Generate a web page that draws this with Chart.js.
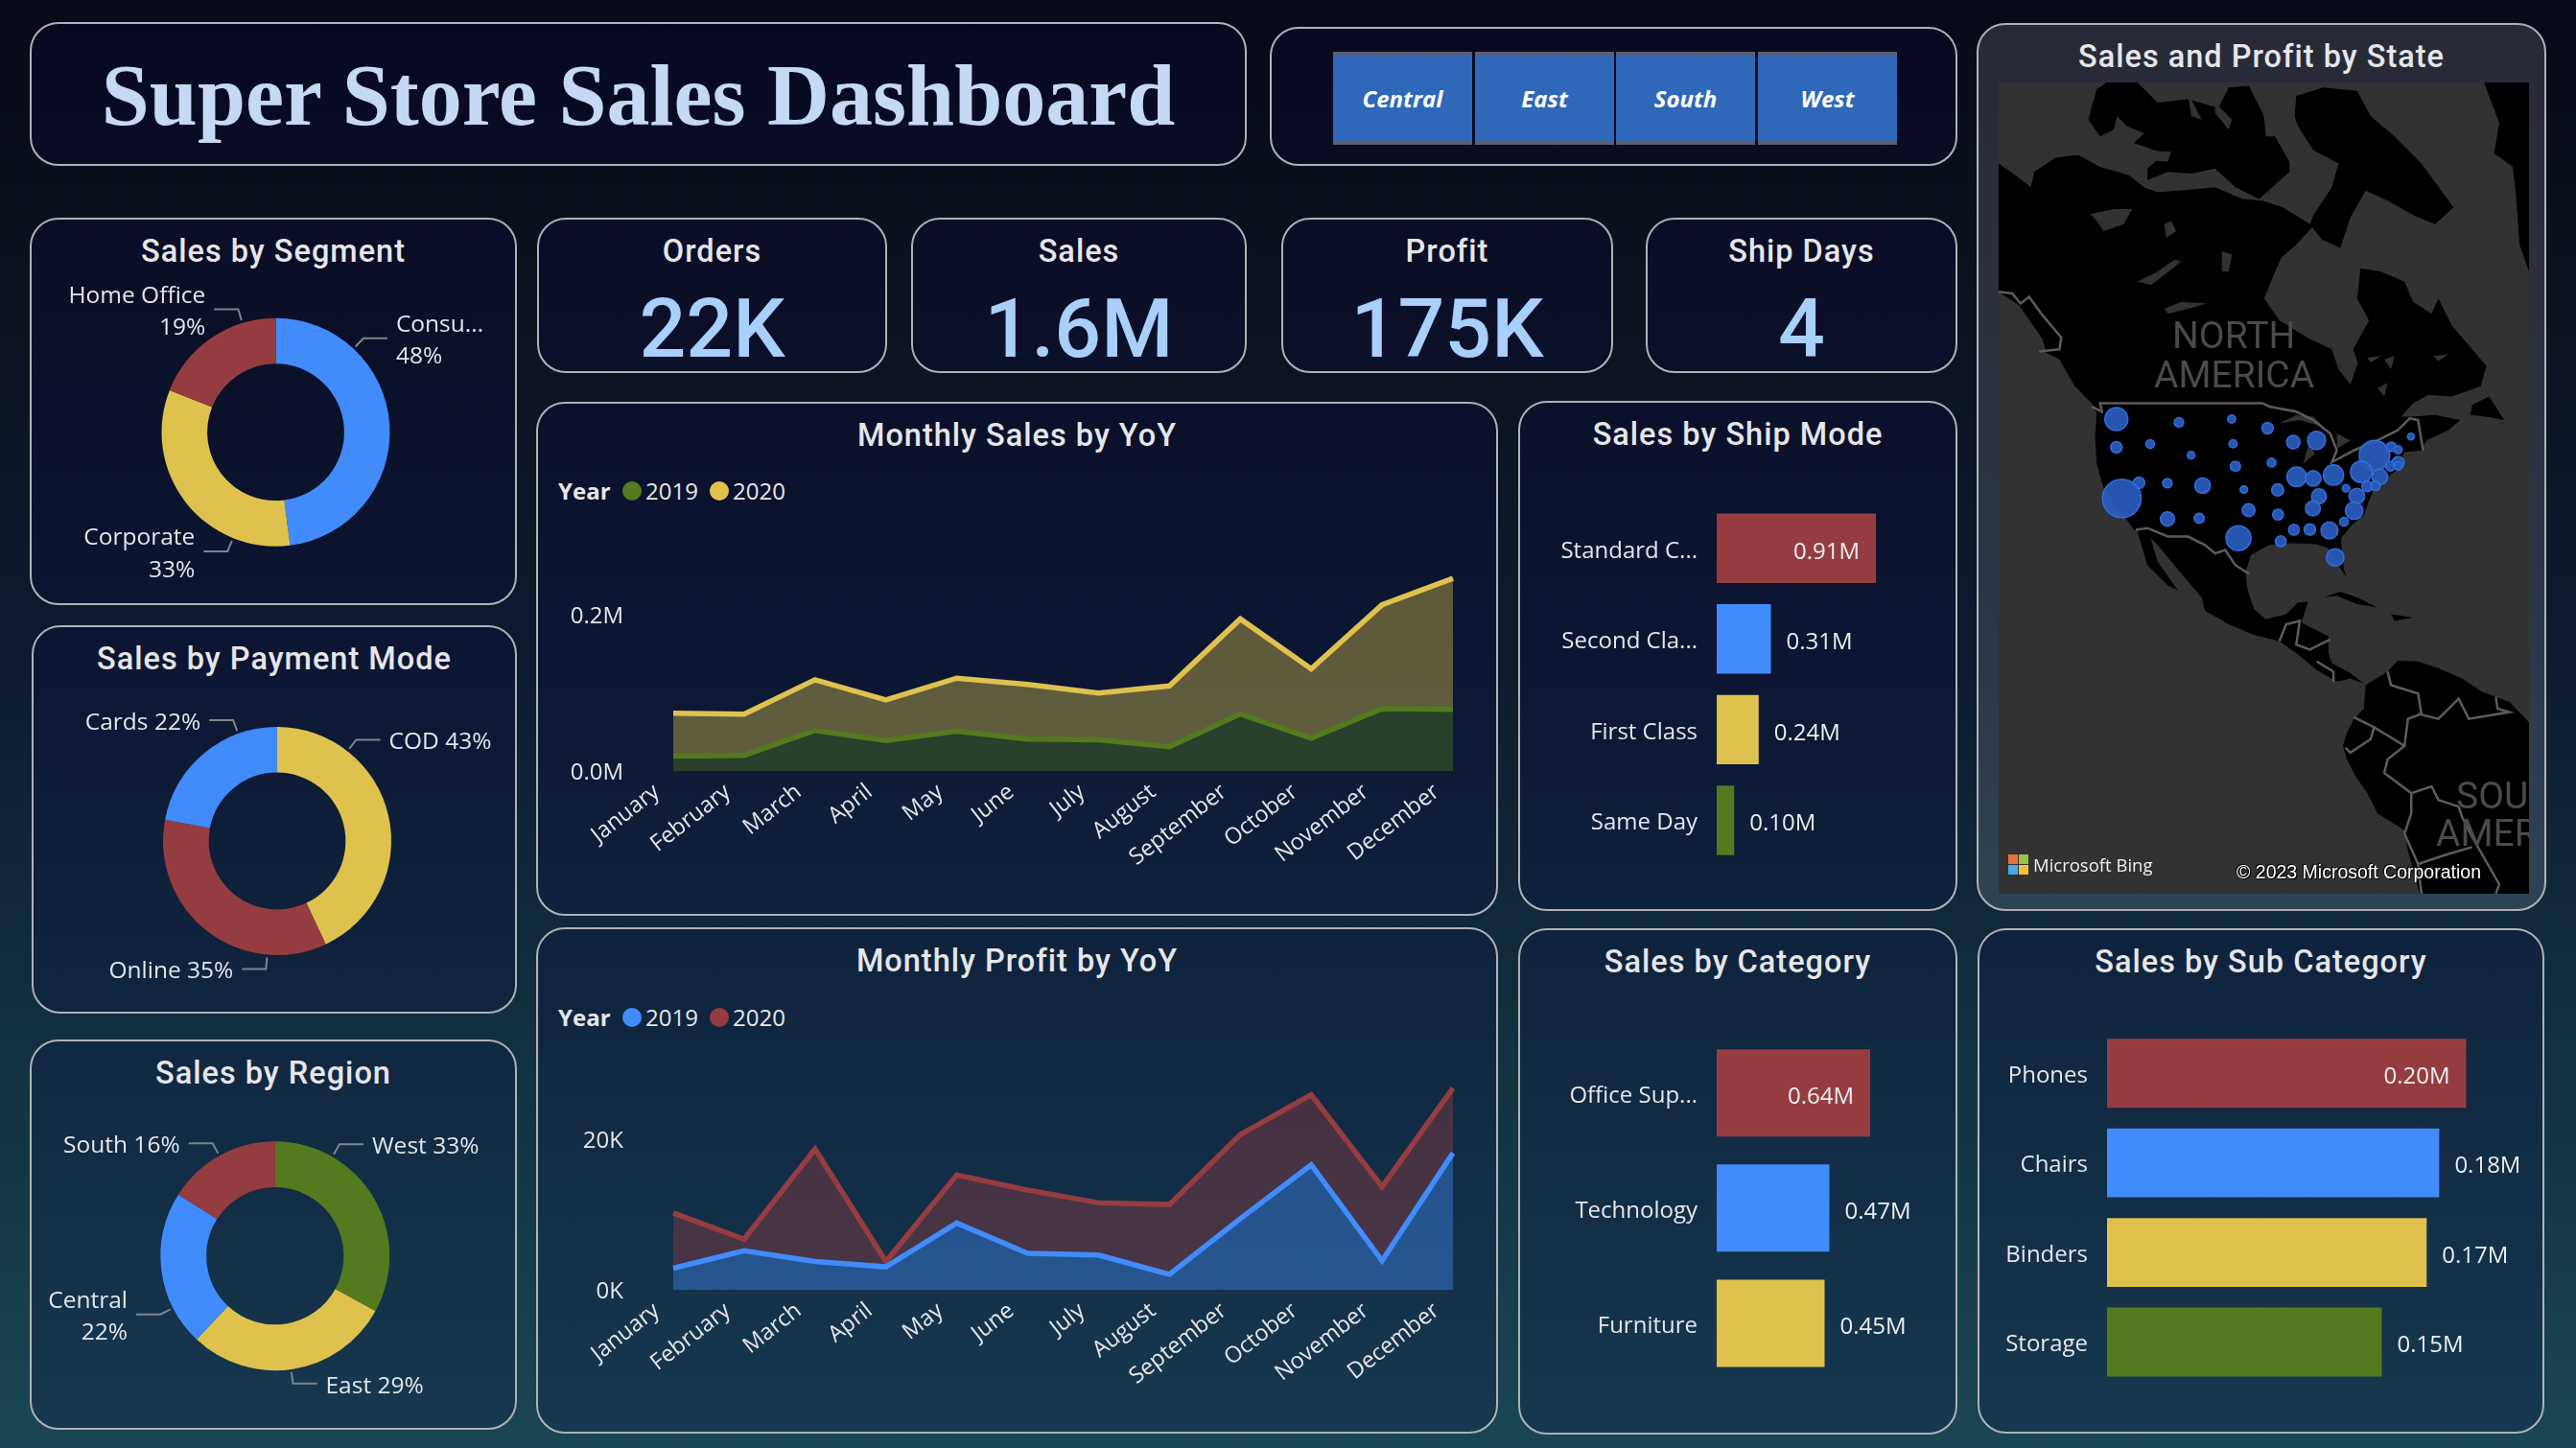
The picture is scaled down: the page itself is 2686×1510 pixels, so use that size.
<!DOCTYPE html>
<html>
<head>
<meta charset="utf-8">
<title>Super Store Sales Dashboard</title>
<script src="https://cdn.jsdelivr.net/npm/chart.js@4/dist/chart.umd.min.js"></script>
<style>
html,body{margin:0;padding:0;width:2686px;height:1510px;overflow:hidden}
body{position:relative;background:linear-gradient(180deg,#070a18 0%,#0c121f 20%,#0d1a2e 45%,#12303f 72%,#1a4753 100%);font-family:'Open Sans',sans-serif;color:#e6e6ea}
.panel{position:absolute;box-sizing:border-box;border:2px solid #aeb2b6;border-radius:30px;background:rgba(8,4,70,.2)}
.panel.map{background:rgba(255,255,255,.13)}
.ptitle{position:absolute;left:0;right:0;top:12px;text-align:center;font:500 32.5px/42px Roboto,sans-serif;letter-spacing:1px;color:#e6e6ea}
.bigtitle{position:absolute;left:0;width:100%;top:20px;text-align:center;font:bold 90px/110px 'Liberation Serif',serif;color:#c5d9f2;white-space:nowrap}
.kpi{position:absolute;left:0;right:0;top:64px;text-align:center;font:500 86px/100px Roboto,sans-serif;color:#a9cffc}
.btn{position:absolute;box-sizing:border-box;background:#2f68b8;border-top:3px solid #5d6068;border-bottom:3px solid #5d6068;text-align:center;font:italic 700 24px/91px 'Open Sans',sans-serif;color:#fff}
.legend{position:absolute;font:24px/30px 'Open Sans',sans-serif;color:#e6e6ea;white-space:nowrap}
.legend b,.legend i,.legend span{position:absolute;top:0}
.legend i{width:20px;height:20px;top:5px;border-radius:50%}
canvas{position:absolute}
.maptext{position:absolute;white-space:nowrap}
.mapclip{position:absolute;overflow:hidden;background:#323232}
</style>
</head>
<body>
<script>
// ---- data ----
const months=['January','February','March','April','May','June','July','August','September','October','November','December']
const sales2019=[0.019,0.020,0.052,0.039,0.051,0.041,0.040,0.031,0.073,0.042,0.080,0.079]
const sales2020=[0.074,0.073,0.117,0.091,0.119,0.111,0.100,0.109,0.195,0.131,0.213,0.247]
// profit in thousands
const profit2019=[2.86,5.18,3.75,3.04,8.84,4.82,4.60,2.05,9.42,16.56,3.84,18.13]
const profit2020=[10.18,6.70,18.66,3.75,15.22,13.21,11.52,11.30,20.58,25.85,13.66,26.74]

const segmentNames=['Consu...','Corporate','Home Office']
const segmentShare=[48,33,19]
const paymentNames=['COD','Online','Cards']
const paymentShare=[43,35,22]
const regionNames=['West','East','Central','South']
const regionShare=[33,29,22,16]

const shipModes=['Standard C...','Second Cla...','First Class','Same Day']
const shipSales=[0.91,0.31,0.24,0.10]
const shipText=['0.91M','0.31M','0.24M','0.10M']
const categories=['Office Sup...','Technology','Furniture']
const categorySales=[0.64,0.47,0.45]
const categoryText=['0.64M','0.47M','0.45M']
const subCategories=['Phones','Chairs','Binders','Storage']
const subCategorySales=[0.200,0.185,0.178,0.153]
const subCategoryText=['0.20M','0.18M','0.17M','0.15M']

const kpiNames=['Orders','Sales','Profit','Ship Days']
const kpiValues=['22K','1.6M','175K','4']
const regionButtons=['Central','East','South','West']

// state bubbles: x, y, size in map units (x 0-1568, y 0-2403, north is up)
const stateX=[348,533,689,795,871,940,348,448,569,693,700,807,1111,1161,1181,1219,1181,1158,1181,1072,990,881,930,1127,1027,1090,1114,415,499,603,725,825,947,1059,364,929,1051,739,499,593,826,1021,873,920,978,709,834,995]
const stateY=[997,1007,997,1024,1065,1060,1081,1071,1104,1070,1137,1126,1105,1079,1088,1049,1126,1137,1136,1153,1163,1168,1173,1168,1202,1196,1195,1186,1187,1194,1206,1207,1226,1225,1232,1262,1268,1267,1293,1291,1280,1301,1325,1324,1327,1350,1359,1407]
const stateSize=[34,14,12,17,20,27,17,13,11,12,15,13,45,14,12,10,18,14,12,32,30,29,23,23,11,16,14,17,14,23,11,18,22,23,57,22,26,19,21,15,16,13,16,17,25,37,16,26]

// rough land outlines in the same map units
const mainland=[[0,240],[50,275],[95,310],[105,265],[170,222],[235,215],[300,250],[385,275],[430,310],[470,325],[560,318],[640,310],[720,345],[780,350],[840,370],[905,410],[930,425],[880,480],[835,520],[805,590],[785,640],[830,705],[920,760],[985,790],[1005,850],[1040,895],[1062,830],[1048,790],[1095,705],[1060,640],[1070,550],[1130,560],[1200,590],[1225,650],[1280,685],[1300,640],[1340,720],[1400,790],[1442,840],[1425,900],[1340,930],[1270,925],[1225,950],[1190,990],[1220,990],[1290,985],[1365,1000],[1330,1030],[1265,1060],[1250,1090],[1200,1095],[1175,1150],[1140,1175],[1110,1200],[1095,1240],[1080,1280],[1045,1310],[1012,1350],[1020,1440],[1028,1465],[1000,1425],[975,1380],[940,1368],[870,1365],[800,1370],[745,1400],[730,1450],[735,1500],[755,1560],[790,1590],[850,1575],[885,1540],[915,1538],[895,1600],[975,1640],[975,1690],[985,1720],[1040,1750],[1080,1780],[1040,1765],[1000,1775],[940,1740],[880,1690],[830,1655],[750,1635],[680,1605],[610,1565],[600,1525],[540,1455],[470,1370],[440,1340],[400,1325],[360,1270],[310,1200],[290,1130],[285,1050],[290,980],[275,950],[225,900],[180,820],[140,800],[130,760],[60,660],[0,620]]
const baja=[[410,1330],[445,1335],[470,1420],[530,1505],[500,1490],[440,1430]]
const arcticWest=[[265,110],[290,20],[320,0],[410,0],[470,60],[560,50],[650,75],[680,15],[740,10],[800,130],[860,235],[860,265],[770,345],[700,310],[640,255],[570,270],[500,265],[440,290],[440,255],[490,210],[400,180],[430,150],[380,130],[350,100],[340,140],[300,160]]
const arcticEast=[[875,100],[880,40],[960,15],[1060,25],[1100,100],[1170,160],[1250,240],[1345,370],[1290,420],[1230,395],[1150,350],[1085,320],[1040,400],[1010,490],[955,465],[920,420],[930,395],[985,310],[1005,240],[930,200],[885,130]]
const greenland=[[1435,0],[1568,0],[1568,560],[1540,480],[1530,340],[1520,250],[1465,210],[1480,120]]
const newfoundland=[[1400,955],[1450,930],[1495,1000],[1440,990],[1395,985]]
const cuba=[[960,1525],[1010,1508],[1060,1525],[1120,1555],[1060,1545],[1000,1520]]
const hispaniola=[[1160,1575],[1225,1585],[1170,1595]]
const southAmerica=[[1085,1785],[1150,1745],[1180,1712],[1240,1715],[1300,1735],[1370,1765],[1430,1805],[1510,1835],[1568,1895],[1568,2403],[1245,2403],[1210,2275],[1200,2215],[1120,2165],[1090,2105],[1055,2055],[1030,2005],[1018,1965],[1030,1925],[1050,1885],[1080,1855]]
const lakes=[
    [[410,590],[470,560],[520,525],[540,530],[490,570],[450,600]],
    [[270,390],[340,375],[395,375],[370,420],[310,440],[290,410]],
    [[490,670],[540,650],[615,655],[560,670],[500,685]],
    [[830,1010],[880,985],[930,990],[960,1020],[890,1000]],
    [[900,1130],[920,1060],[935,1100]],
    [[1000,1040],[1040,1060],[1000,1085]],
    [[560,40],[575,60],[600,110],[570,100]],
    [[640,60],[690,110],[680,140],[640,90]],
    [[780,60],[830,160],[790,160]],
    [[390,200],[510,205],[500,235],[400,225]],
    [[490,420],[510,410],[525,440],[495,460]],
    [[660,500],[690,510],[680,560],[660,560]],
    [[1140,820],[1170,810],[1160,850]],
    [[1285,810],[1330,805],[1300,825]],
    [[1090,815],[1130,810],[1100,830]],
    [[1120,905],[1150,890],[1140,930]]
]
const borders=[
    [[275,960],[305,975],[300,950],[780,950],[800,960],[880,975],[930,1000],[980,1040],[1000,1090],[985,1125],[1050,1090],[1120,1060],[1180,1030],[1215,995],[1240,1000],[1255,1090]],
    [[405,1325],[440,1320],[500,1345],[560,1345],[610,1370],[640,1395],[670,1385],[700,1430],[740,1455]],
    [[0,620],[40,625],[65,655],[90,635],[130,690],[185,755],[180,790],[120,797]],
    [[830,1655],[850,1605],[890,1595],[880,1665],[920,1680],[980,1650]],
    [[940,1715],[990,1745],[990,1775]],
    [[1150,1745],[1160,1785],[1240,1810],[1250,1870],[1210,1885],[1200,1965],[1150,2005],[1140,2045],[1220,2105],[1280,2085],[1300,2125],[1360,2145],[1370,2175],[1400,2235],[1440,2305],[1480,2375],[1470,2403]],
    [[1220,2105],[1220,2165],[1200,2225],[1240,2315],[1250,2403]],
    [[1240,2315],[1330,2285],[1400,2265]],
    [[1050,1880],[1110,1910],[1200,1965]],
    [[1110,1910],[1100,1945],[1040,1985],[1025,1970]],
    [[1240,1870],[1300,1885],[1360,1825],[1390,1885],[1510,1865],[1475,1855],[1470,1820]]
]

// ---- colours ----
const yellow='#dfc24e', green='#537a1e', blue='#418bfb', red='#953c40'

// ---- page helpers ----
function addPanel(box,title,clase){
    const d=document.createElement('div')
    d.className='panel'+(clase?' '+clase:'')
    d.style.left=box[0]+'px'
    d.style.top=box[1]+'px'
    d.style.width=(box[2]-box[0])+'px'
    d.style.height=(box[3]-box[1])+'px'
    if(title){
        const t=document.createElement('div')
        t.className='ptitle'
        t.textContent=title
        d.appendChild(t)
    }
    document.body.appendChild(d)
    return d
}

function addCanvas(box,parent){
    const c=document.createElement('canvas')
    c.width=box[2]-box[0]
    c.height=box[3]-box[1]
    c.style.left=box[0]+'px'
    c.style.top=box[1]+'px'
    ;(parent||document.body).appendChild(c)
    return c
}

function addLegend(x,y,colors){
    const l=document.createElement('div')
    l.className='legend'
    l.style.left=x+'px'
    l.style.top=y+'px'
    l.innerHTML=`<b style="left:0">Year</b><i style="left:67px;background:${colors[0]}"></i><span style="left:91px">2019</span><i style="left:158px;background:${colors[1]}"></i><span style="left:182px">2020</span>`
    document.body.appendChild(l)
}

Chart.defaults.font.family="'Open Sans',sans-serif"
Chart.defaults.font.size=24
Chart.defaults.color='#e6e6ea'
Chart.defaults.animation=false
Chart.defaults.devicePixelRatio=1
Chart.defaults.responsive=false
Chart.defaults.plugins.legend.display=false
Chart.defaults.plugins.tooltip.enabled=false

// leader lines and labels round a donut, angle is clockwise from the top
const donutLabels={
    id:'donutLabels',
    afterDatasetsDraw(chart,args,opts){
        const ctx=chart.ctx
        const arcs=chart.getDatasetMeta(0).data
        ctx.save()
        ctx.font="24.5px 'Open Sans',sans-serif"
        arcs.forEach((arc,i)=>{
            const a=opts.angles[i]*Math.PI/180
            const sx=Math.sin(a), sy=-Math.cos(a)
            const r=arc.outerRadius
            const lado=sx>=0?1:-1
            const ex=arc.x+(r+15)*sx, ey=arc.y+(r+15)*sy
            const fx=ex+lado*25
            ctx.beginPath()
            ctx.moveTo(arc.x+(r+3)*sx,arc.y+(r+3)*sy)
            ctx.lineTo(ex,ey)
            ctx.lineTo(fx,ey)
            ctx.strokeStyle='#7e858c'
            ctx.lineWidth=2
            ctx.stroke()
            ctx.fillStyle='#e4e6ea'
            ctx.textAlign=lado>0?'left':'right'
            ctx.textBaseline='middle'
            const name=chart.data.labels[i]
            const pct=chart.data.datasets[0].data[i]+'%'
            const lines=opts.twoLines.includes(name)?[name,pct]:[name+' '+pct]
            lines.forEach((t,k)=>{
                ctx.fillText(t,fx+lado*9,ey+3+(k-(lines.length-1)/2)*33.5)
            })
        })
        ctx.restore()
    }
}

function donut(box,cx,cy,r,names,share,colors,angles,twoLines){
    new Chart(addCanvas(box),{
        type:'doughnut',
        data:{labels:names,datasets:[{data:share,backgroundColor:colors,borderWidth:0,hoverOffset:0}]},
        options:{
            cutout:'60%',
            layout:{padding:{left:cx-r-box[0],right:box[2]-cx-r,top:cy-r-box[1],bottom:box[3]-cy-r}},
            plugins:{donutLabels:{angles,twoLines}}
        },
        plugins:[donutLabels]
    })
}

function areaChart(box,plot,lower,upper,colLow,fillLow,colUp,fillUp,yMax,step,tick){
    new Chart(addCanvas(box),{
        type:'line',
        data:{labels:months,datasets:[
            {label:'2019',data:lower,borderColor:colLow,backgroundColor:fillLow,fill:'origin',borderWidth:5.5,pointRadius:0,tension:0},
            {label:'2020',data:upper,borderColor:colUp,backgroundColor:fillUp,fill:0,borderWidth:5.5,pointRadius:0,tension:0}
        ]},
        options:{
            layout:{padding:{top:plot[1]-box[1],right:box[2]-plot[2],left:0,bottom:0}},
            scales:{
                x:{
                    grid:{display:false,drawTicks:false},border:{display:false},
                    ticks:{autoSkip:false,minRotation:38,maxRotation:38,padding:8,labelOffset:-17,font:{size:23.5}},
                    afterFit:s=>{s.height=box[3]-plot[3]}
                },
                y:{
                    min:0,max:yMax,
                    grid:{display:false,drawTicks:false},border:{display:false},
                    ticks:{stepSize:step,includeBounds:false,padding:52,labelOffset:2,callback:tick,font:{size:24}},
                    afterFit:s=>{s.width=plot[0]-box[0]}
                }
            }
        }
    })
}

// value labels on bars: inside the longest bar, outside the rest
const barValues={
    id:'barValues',
    afterDatasetsDraw(chart,args,opts){
        const ctx=chart.ctx
        const bars=chart.getDatasetMeta(0).data
        const vals=chart.data.datasets[0].data
        const mayor=Math.max(...vals)
        ctx.save()
        ctx.font="24px 'Open Sans',sans-serif"
        ctx.fillStyle='#eceef0'
        ctx.textBaseline='middle'
        bars.forEach((b,i)=>{
            if(vals[i]===mayor){
                ctx.textAlign='right'
                ctx.fillText(opts.text[i],b.x-17,b.y+4)
            }else{
                ctx.textAlign='left'
                ctx.fillText(opts.text[i],b.x+16,b.y+4)
            }
        })
        ctx.restore()
    }
}

function barChart(box,plot,names,values,text,colors,xMax,ancho){
    new Chart(addCanvas(box),{
        type:'bar',
        data:{labels:names,datasets:[{data:values,backgroundColor:colors,borderWidth:0,categoryPercentage:1,barPercentage:ancho}]},
        options:{
            indexAxis:'y',
            layout:{padding:{top:plot[1]-box[1],right:box[2]-plot[2],bottom:box[3]-plot[3],left:0}},
            scales:{
                x:{display:false,min:0,max:xMax},
                y:{
                    grid:{display:false,drawTicks:false},border:{display:false},
                    ticks:{padding:20,labelOffset:3,font:{size:24}},
                    afterFit:s=>{s.width=plot[0]-box[0]}
                }
            },
            plugins:{barValues:{text}}
        },
        plugins:[barValues]
    })
}

// ---- header ----
const header=addPanel([31,23,1300,173])
const big=document.createElement('div')
big.className='bigtitle'
big.textContent='Super Store Sales Dashboard'
header.appendChild(big)

addPanel([1324,28,2041,173])
const btnX=[1390,1538,1685,1833]
regionButtons.forEach((nombre,i)=>{
    const b=document.createElement('div')
    b.className='btn'
    b.style.left=btnX[i]+'px'
    b.style.top='54px'
    b.style.width='145px'
    b.style.height='97px'
    b.textContent=nombre
    document.body.appendChild(b)
})

// ---- kpi cards ----
const kpiBoxes=[[560,227,925,389],[950,227,1300,389],[1336,227,1682,389],[1716,227,2041,389]]
kpiNames.forEach((nombre,i)=>{
    const p=addPanel(kpiBoxes[i],nombre)
    const v=document.createElement('div')
    v.className='kpi'
    v.textContent=kpiValues[i]
    p.appendChild(v)
})

// ---- donuts ----
const segBox=[31,227,539,631]
addPanel(segBox,'Sales by Segment')
donut(segBox,287.5,450.7,119,segmentNames,segmentShare,[blue,yellow,red],[43,202,343],segmentNames)

const payBox=[33,652,539,1057]
addPanel(payBox,'Sales by Payment Mode')
donut(payBox,289,877,119,paymentNames,paymentShare,[yellow,red,blue],[38,185,340],[])

const regBox=[31,1084,539,1491]
addPanel(regBox,'Sales by Region')
donut(regBox,286.8,1309.7,119.4,regionNames,regionShare,[green,yellow,blue,red],[30,172,243,331],['Central'])

// ---- monthly areas ----
const salesBox=[559,419,1562,955]
addPanel(salesBox,'Monthly Sales by YoY')
addLegend(582,497,[green,yellow])
areaChart(salesBox,[702,560,1515,804],sales2019,sales2020,green,'rgba(83,122,30,.4)',yellow,'rgba(223,194,78,.4)',0.3,0.2,v=>v.toFixed(1)+'M')

const profitBox=[559,967,1562,1495]
addPanel(profitBox,'Monthly Profit by YoY')
addLegend(582,1046,[blue,red])
areaChart(profitBox,[702,1109,1515,1345],profit2019,profit2020,blue,'rgba(65,139,251,.4)',red,'rgba(149,60,64,.4)',30,20,v=>v+'K')

// ---- bars ----
const shipBox=[1583,418,2041,950]
addPanel(shipBox,'Sales by Ship Mode')
barChart(shipBox,[1790,524.4,2009,902.8],shipModes,shipSales,shipText,[red,blue,yellow,green],1.2,0.765)

const catBox=[1583,968,2041,1496]
addPanel(catBox,'Sales by Category')
barChart(catBox,[1790,1079.6,2015,1440],categories,categorySales,categoryText,[red,blue,yellow],0.9,0.757)

const subBox=[2062,968,2653,1495]
addPanel(subBox,'Sales by Sub Category')
barChart(subBox,[2197,1072.5,2640,1446.2],subCategories,subCategorySales,subCategoryText,[red,blue,yellow,green],0.2366,0.769)

// ---- map ----
addPanel([2061,24,2655,950],'Sales and Profit by State','map')
const mapBox=[2084,86,2637,932]
const mapClip=document.createElement('div')
mapClip.className='mapclip'
mapClip.style.cssText=`left:${mapBox[0]}px;top:${mapBox[1]}px;width:${mapBox[2]-mapBox[0]}px;height:${mapBox[3]-mapBox[1]}px`
document.body.appendChild(mapClip)

const toXY=pts=>pts.map(p=>({x:p[0],y:p[1]}))
const landShape=pts=>({type:'scatter',data:toXY(pts),showLine:true,fill:'shape',borderWidth:0,pointRadius:0,tension:0})
const mapScale=(mapBox[2]-mapBox[0])/1568
const mapDatasets=[
    {type:'bubble',data:stateX.map((x,i)=>({x,y:stateY[i],r:stateSize[i]*mapScale})),backgroundColor:'rgba(42,92,190,.92)',borderColor:'rgba(52,112,228,.95)',borderWidth:1.5},
    ...borders.map(b=>({type:'scatter',data:toXY(b),showLine:true,fill:false,borderColor:'#5c5c5c',borderWidth:2.5,pointRadius:0,tension:0})),
    ...lakes.map(l=>({...landShape(l),backgroundColor:'#323232'})),
    ...[mainland,baja,arcticWest,arcticEast,greenland,newfoundland,cuba,hispaniola,southAmerica].map(l=>({...landShape(l),backgroundColor:'#000'}))
]
new Chart(addCanvas([0,0,mapBox[2]-mapBox[0],mapBox[3]-mapBox[1]],mapClip),{
    type:'scatter',
    data:{datasets:mapDatasets},
    options:{
        layout:{padding:0,autoPadding:false},
        scales:{
            x:{display:false,min:0,max:1568},
            y:{display:false,min:0,max:2403,reverse:true}
        }
    }
})

function mapText(texto,x,y,estilo){
    const t=document.createElement('div')
    t.className='maptext'
    t.style.cssText=`left:${x-mapBox[0]}px;top:${y-mapBox[1]}px;${estilo}`
    t.textContent=texto
    mapClip.appendChild(t)
}
const continente="font:39px/46px Roboto,sans-serif;color:#4a4a4a"
mapText('NORTH',2265,327,continente)
mapText('AMERICA',2246,368,continente)
mapText('SOUTH',2561,807,continente)
mapText('AMERICA',2540,846,continente)
mapText('Microsoft Bing',2120,889,"font:18.5px/26px 'Open Sans',sans-serif;color:#f0f0f0")
mapText('© 2023 Microsoft Corporation',2332,897,"font:19.5px/24px 'Liberation Sans',sans-serif;color:#fff;text-shadow:1px 1px 1px #000,-1px -1px 1px #000")
const logoColors=['#e8743b','#9bc04a','#4aa8e8','#f5c23e']
logoColors.forEach((col,i)=>{
    const s=document.createElement('div')
    s.style.cssText=`position:absolute;left:${10+(i%2)*11}px;top:${805+Math.floor(i/2)*11}px;width:10px;height:10px;background:${col}`
    mapClip.appendChild(s)
})
</script>
</body>
</html>
